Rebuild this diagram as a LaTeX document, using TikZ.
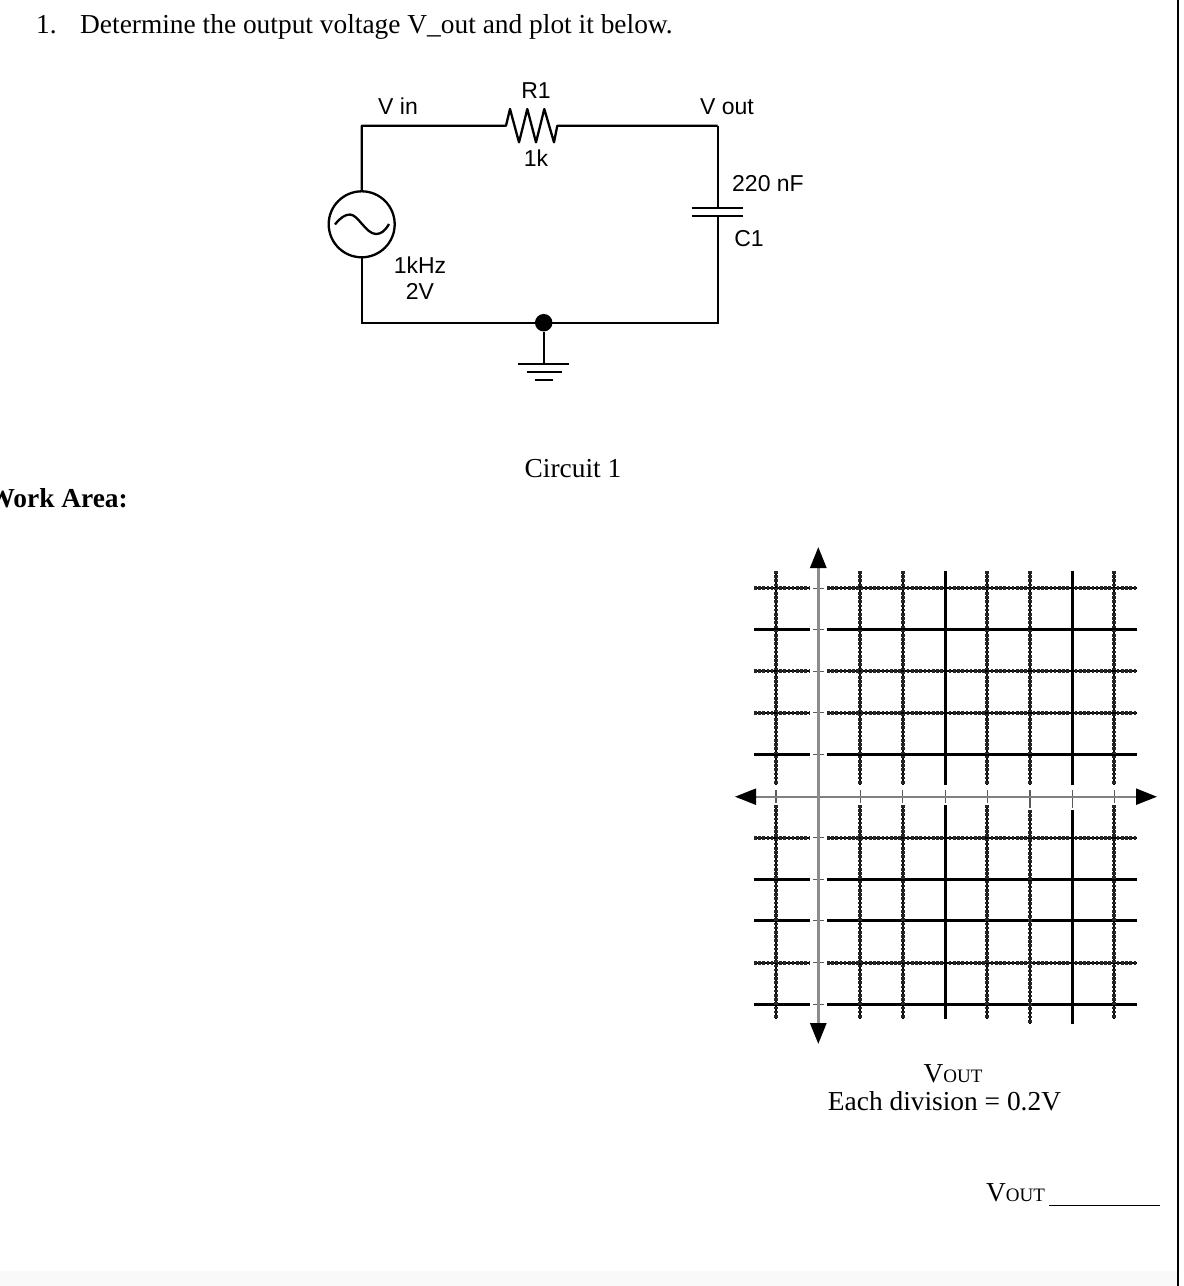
\documentclass[tikz,border=0pt]{standalone}
\usepackage{fontspec}
\setmainfont{Liberation Serif}
\newfontfamily\lsans{Liberation Sans}
\usetikzlibrary{arrows.meta}
\newcommand{\txtsize}{\fontsize{27.4}{32}\selectfont}
\newcommand{\sanssize}{\lsans\fontsize{23}{26}\selectfont}
\newcommand{\vout}{V{\fontsize{19}{22}\selectfont OUT}}
\tikzset{
  x=1pt,y=-1pt,
  serif/.style={inner sep=0pt,anchor=base west,font=\txtsize,text=black},
  lab/.style={inner sep=0pt,anchor=center,font=\sanssize,align=center,text=black},
  wire/.style={line width=2.3pt,line cap=butt,line join=miter,draw=black},
  plate/.style={line width=2pt,draw=black},
  thinwire/.style={line width=2.3pt,draw=black,line join=round},
  solidgrid/.style={line width=3.4pt,draw=black},
  beadgrid/.style={line width=4pt,draw=black!85,dash pattern=on 2.6pt off 1.6pt,
    preaction={draw=black,line width=2.2pt,solid}},
  tickmark/.style={line width=1.2pt,draw=black!65},
  axisline/.style={line width=3pt,draw=black!45},
  vtip/.style={-{Triangle[length=21pt,width=16pt,color=black]}},
  haxis/.style={line width=2.2pt,draw=black!50},
}
\begin{document}
\begin{tikzpicture}
\useasboundingbox (0,0) rectangle (1184,1286);
\fill[white] (0,0) rectangle (1184,1286);
\fill[black!2.5] (0,1271) rectangle (1177,1286);
\coordinate (bt) at (1178,0); \coordinate (bb) at (1178,1286);
\draw[line width=2.4pt,black] (bt) -- (bb);

% heading
\node[serif] (num) at (36,33) {1.};
\node[serif] (head) at (80,33) {Determine the output voltage V\_out and plot it below.};
\node[serif,anchor=base east,font=\txtsize\bfseries] (work) at (128,507) {Work Area:};
\node[serif,anchor=base] (cap) at (573,477) {Circuit 1};

% circuit
\coordinate (tl) at (361.7,125.7);
\coordinate (tr) at (717.7,125.7);
\coordinate (bl) at (361.7,323);
\coordinate (br) at (717.7,323);
\coordinate (ra) at (495,125.7);
\coordinate (rb) at (568,125.7);
\node[circle,draw=black,line width=2.3pt,minimum size=66pt,inner sep=0pt,fill=white] (src) at (361.7,224.3) {};
\draw[thinwire] (src.north) -- (tl) -- (ra) -- (506,125.7) -- (510,109) -- (519,142.3) -- (527.3,109) -- (536,142.3) -- (544.3,109) -- (554,142.3) -- (557.3,125.7) -- (rb) -- (tr);
\coordinate (ca) at (717.7,207.7);
\coordinate (cb) at (717.7,215.7);
\draw[wire] (tr) -- (ca);
\draw[plate] (691.7,207.7) -- (743.3,207.7);
\draw[plate] (691.7,215.7) -- (743.3,215.7);
\draw[wire] (cb) -- (br) -- (bl) -- (src.south);
\draw[thinwire] (335,224.5) .. controls (340,218) and (345,214.5) .. (350,214.5) .. controls (358,214.5) and (366,234) .. (376,234) .. controls (381,234) and (385,231) .. (389,224);
\node[circle,fill=black,minimum size=17.5pt,inner sep=0pt] (jn) at (543.7,322.7) {};
\coordinate (gnd) at (543.7,364);
\draw[wire] (jn) -- (gnd);
\draw[plate] (518.3,364) -- (569.3,364);
\draw[plate] (526.7,371.7) -- (561.7,371.7);
\draw[plate] (535,380) -- (553.3,380);

\node[lab] (vin) at (398,106.5) {V in};
\node[lab] (r1) at (536,91) {R1};
\node[lab] (rv) at (536,158) {1k};
\node[lab] (vo) at (727,107) {V out};
\node[lab] (cv) at (768,184) {220 nF};
\node[lab] (c1) at (749,239) {C1};
\node[lab] (f) at (420,265.5) {1kHz};
\node[lab] (a) at (420,291) {2V};

% graph: horizontal rules
\foreach \yy/\st in {588.3/beadgrid,629.7/solidgrid,671.3/beadgrid,712.7/beadgrid,754.7/solidgrid,837.7/beadgrid,879.7/solidgrid,920.7/solidgrid,962.7/beadgrid,1004.3/solidgrid}{
  \draw[\st] (754,\yy) -- (810,\yy);
  \draw[\st] (827,\yy) -- (1137,\yy);
  \draw[tickmark] (813,\yy) -- (824,\yy);
}
% graph: vertical rules
\foreach \xx/\st/\ya/\yb in {776/beadgrid/805/1019,860.3/beadgrid/805/1019,902.7/beadgrid/805/1019,945.3/solidgrid/805/1019,987.3/beadgrid/805/1019,1030/beadgrid/810/1024,1072.3/solidgrid/810/1024,1114.3/beadgrid/805/1019}{
  \draw[\st] (\xx,571) -- (\xx,785);
  \draw[\st] (\xx,\ya) -- (\xx,\yb);
  \draw[tickmark] (\xx,790) -- (\xx,\ifdim\ya pt>805pt 808\else 803\fi);
}
% axes
\coordinate (xl) at (735,796.7);
\coordinate (xr) at (1157,796.7);
\coordinate (yt) at (818.3,547);
\coordinate (yb) at (818.3,1044);
\coordinate (o) at (818.3,796.7);
\draw[haxis,vtip] (o) -- (xl);
\draw[haxis,vtip] (o) -- (xr);
\draw[axisline,vtip] (o) -- (yt);
\draw[axisline,vtip] (o) -- (yb);

% captions
\node[serif,anchor=base] (v1) at (953,1082) {\vout};
\node[serif,anchor=base] (div) at (944.5,1110) {Each division = 0.2V};
\node[serif,anchor=base west] (v2) at (986,1201) {\vout};
\coordinate (la) at (1049,1205.5);
\coordinate (lb) at (1160,1205.5);
\draw[line width=1.2pt,black] (la) -- (lb);
\end{tikzpicture}
\end{document}
